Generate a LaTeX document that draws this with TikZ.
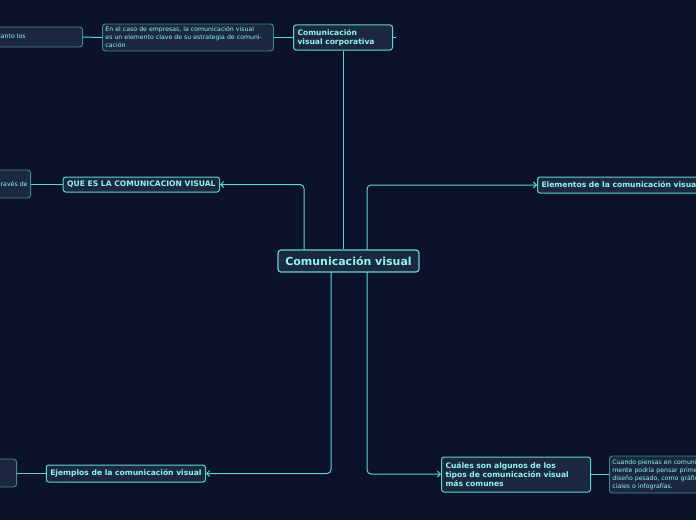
\documentclass[tikz,border=0pt]{standalone}
\usepackage{fontspec}
\setmainfont{DejaVu Sans}
\usetikzlibrary{arrows.meta}
\definecolor{bg}{HTML}{0B1229}
\definecolor{boxf}{HTML}{1C2840}
\definecolor{edge}{HTML}{5ED8CC}
\definecolor{nedge}{HTML}{3E8C8E}
\definecolor{txt}{HTML}{8FF8EC}
\tikzset{
 main/.style={draw=edge,fill=boxf,rounded corners=3pt,line width=1.2pt,text=txt,font=\bfseries\fontsize{11}{13}\selectfont,inner sep=4pt},
 branch/.style={draw=edge,fill=boxf,rounded corners=2.5pt,line width=1pt,text=txt,font=\bfseries\fontsize{7.6}{9.4}\selectfont,inner sep=4pt,align=left},
 note/.style={draw=nedge,fill=boxf,rounded corners=3pt,line width=0.9pt,text=txt,font=\fontsize{6.2}{8}\selectfont,inner sep=3pt,align=left},
 conn/.style={draw=edge,line width=1pt,rounded corners=4pt},
 arr/.style={conn,-{Straight Barb[length=3pt,width=6pt]}}
}
\begin{document}
\begin{tikzpicture}[x=1pt,y=-1pt]
\fill[bg] (0,0) rectangle (696,520);
\useasboundingbox (0,0) rectangle (696,520);
\node[main,minimum width=141pt,minimum height=22pt] (c) at (348.5,261) {Comunicación visual};
\node[branch,minimum height=25pt,anchor=west,text width=91pt] (corp) at (293,37.5) {Comunicación\\visual corporativa};
\node[note,anchor=west,text width=165pt,minimum height=27pt] (n1) at (102,37.5) {En el caso de empresas, la comunicación visual es un elemento clave de su estrategia de comunicación};
\node[note,anchor=east,text width=160pt,minimum height=20pt] (n0) at (83,37) {Las empresas tienen por tanto los};
\node[branch,anchor=east,minimum height=15pt] (que) at (220,184.5) {QUE ES LA COMUNICACION VISUAL};
\node[note,anchor=east,text width=120pt,minimum height=28pt,align=right] (n2) at (31,184) {a través de};
\node[branch,anchor=west,minimum height=16pt] (ele) at (537,185) {Elementos de la comunicación visual};
\node[branch,anchor=east,minimum height=17pt] (eje) at (206,473.5) {Ejemplos de la comunicación visual};
\node[note,anchor=east,text width=120pt,minimum height=28pt] (n3) at (17,473) {};
\node[branch,anchor=west,text width=141pt,minimum height=35pt] (cua) at (441,474.5) {Cuáles son algunos de los\\tipos de comunicación visual\\más comunes};
\node[note,anchor=west,text width=150pt,minimum height=37pt] (n4) at (609,474.5) {Cuando piensas en comunicación visual, tu mente podría pensar primero en un trabajo de diseño pesado, como gráficos para redes sociales o infografías.};
\draw[conn] (c.north -| corp.south) -- (corp.south);
\draw[conn] (corp.east) -- ++(3,0);
\draw[conn] (corp.west) -- (n1.east);
\draw[conn] (n1.west) -- (n0.east);
\draw[arr] (304,250) -- (304,184.5) -- (que.east);
\draw[conn] (que.west) -- (n2.east |- que.west);
\draw[arr] (367,250) -- (367,185) -- (ele.west);
\draw[arr] (331,272) -- (331,473.5) -- (eje.east);
\draw[conn] (eje.west) -- (n3.east |- eje.west);
\draw[arr] (367,272) -- (367,474) -- (cua.west |- 0,474);
\draw[conn] (cua.east) -- (n4.west);
\end{tikzpicture}
\end{document}
